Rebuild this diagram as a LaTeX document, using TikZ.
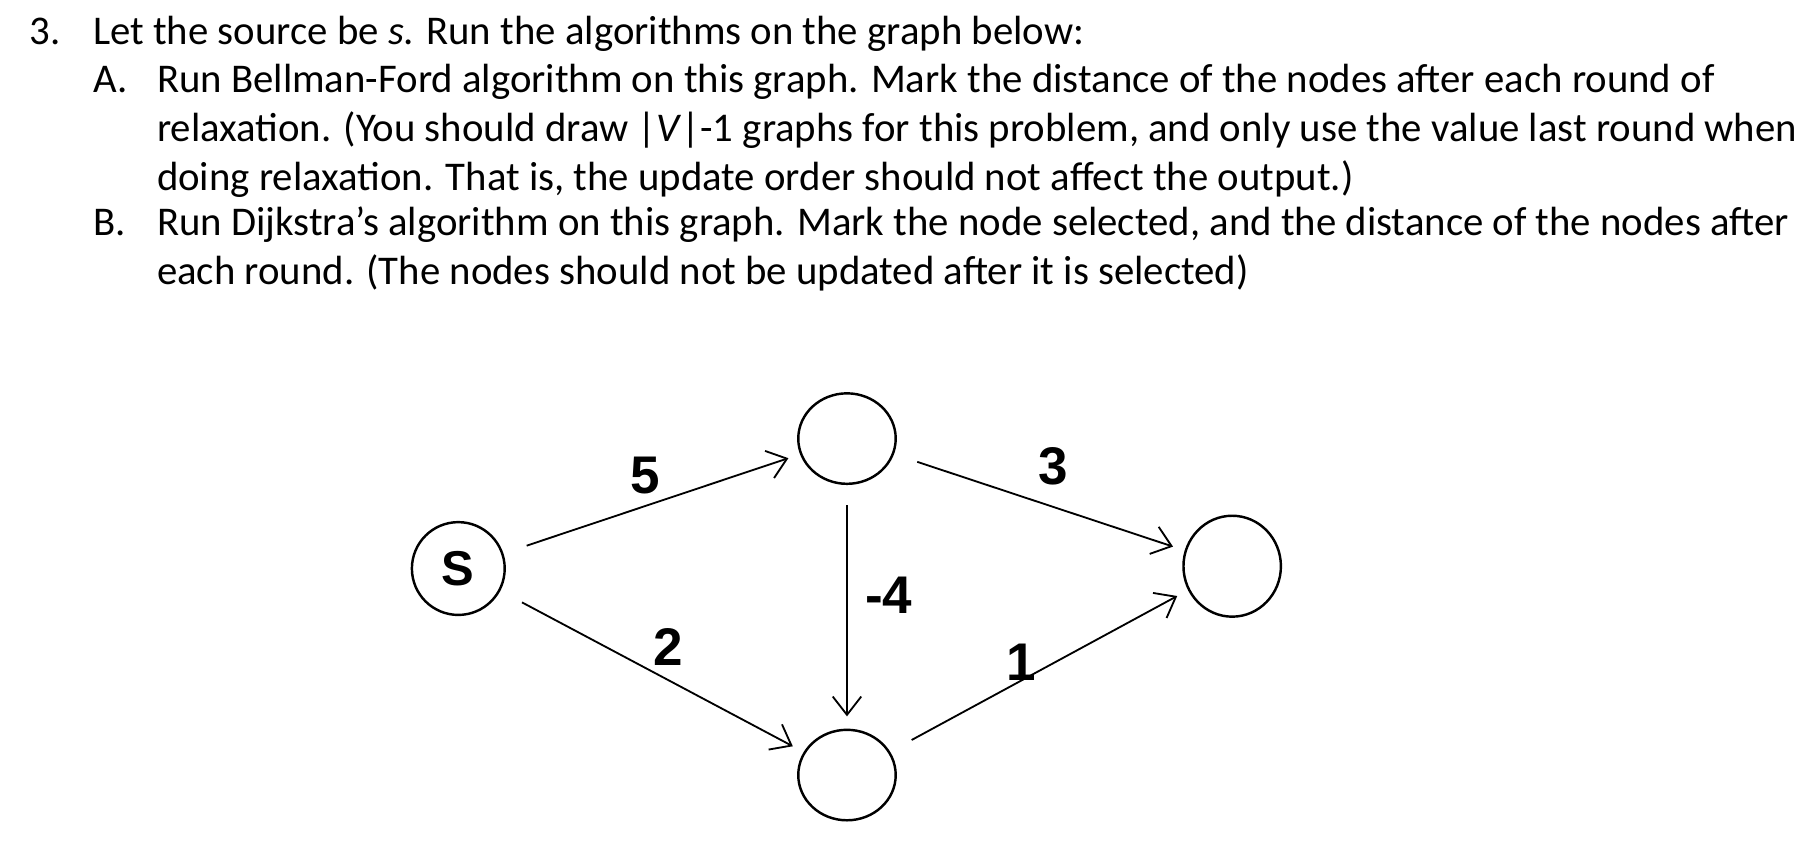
\documentclass[tikz,border=0pt]{standalone}
\usepackage{fontspec}
\setmainfont{Carlito}
\newfontfamily\arialf{Liberation Sans}
\usetikzlibrary{arrows.meta,shapes.geometric}
\begin{document}
\begin{tikzpicture}[x=0.02cm,y=-0.02cm,
  txt/.style={anchor=base west,inner sep=0,font=\fontsize{20}{24}\selectfont},
  vtx/.style={draw,line width=1.2pt,ellipse,minimum width=84\pgflinewidth*0+1.68cm,minimum height=1.56cm,inner sep=0},
  edge/.style={line width=0.9pt,-{Straight Barb[length=9pt,width=14pt,line width=0.9pt]},shorten <=12pt,shorten >=6pt},
  wlab/.style={font=\arialf\bfseries\fontsize{26}{30}\selectfont,inner sep=0}]
\useasboundingbox (0,0) rectangle (1560,730);
\node[txt] (l1) at (25,38) {3.};
\node[txt] (l1b) at (80,38) {Let the source be \textit{s}. Run the algorithms on the graph below:};
\node[txt] (la) at (80,80) {A.};
\node[txt] (la1) at (135,80) {Run Bellman-Ford algorithm on this graph. Mark the distance of the nodes after each round of};
\node[txt] (la2) at (135,122) {relaxation. (You should draw |\textit{V}|-1 graphs for this problem, and only use the value last round when};
\node[txt] (la3) at (135,164) {doing relaxation. That is, the update order should not affect the output.)};
\node[txt] (lb) at (80,203) {B.};
\node[txt] (lb1) at (135,203) {Run Dijkstra’s algorithm on this graph. Mark the node selected, and the distance of the nodes after};
\node[txt] (lb2) at (135,245) {each round. (The nodes should not be updated after it is selected)};
\node[vtx,minimum width=1.6cm,minimum height=1.6cm] (s) at (395,490) {\arialf\bfseries\fontsize{24}{28}\selectfont S};
\node[vtx] (t) at (730,378) {};
\node[vtx] (b) at (730,668) {};
\node[vtx,minimum height=1.74cm] (r) at (1062,488) {};
\draw[edge] (s) -- (t);
\draw[edge] (t) -- (r);
\draw[edge,shorten <=10pt,shorten >=6pt] (t) -- (b);
\draw[edge] (s) -- (b);
\draw[edge] (b) -- (r);
\node[wlab] (w5) at (556,410) {5};
\node[wlab] (w3) at (908,402) {3};
\node[wlab] (w4) at (766,513) {-4};
\node[wlab] (w2) at (576,558) {2};
\node[wlab] (w1) at (880,571) {1};
\end{tikzpicture}
\end{document}
